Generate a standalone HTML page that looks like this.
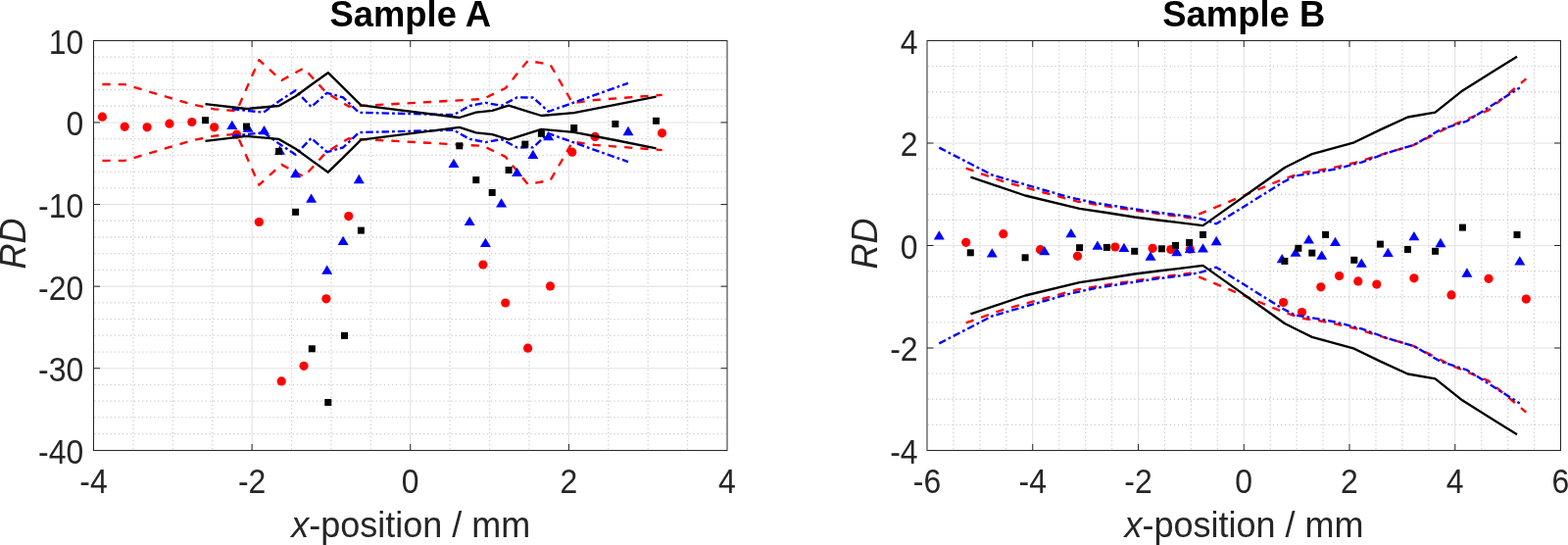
<!DOCTYPE html><html><head><meta charset="utf-8"><title>Sample A / Sample B</title>
<style>html,body{margin:0;padding:0;background:#fff;}svg{display:block;}text{font-family:"Liberation Sans", Arial, Helvetica, sans-serif;}</style></head><body>
<svg width="1600" height="556" viewBox="0 0 1600 556">
<rect width="1600" height="556" fill="#fff"/>
<path d="M135.91 41.5V459.5M176.31 41.5V459.5M216.72 41.5V459.5M297.53 41.5V459.5M337.94 41.5V459.5M378.34 41.5V459.5M459.16 41.5V459.5M499.56 41.5V459.5M539.97 41.5V459.5M620.78 41.5V459.5M661.19 41.5V459.5M701.59 41.5V459.5" stroke="#cfcfcf" stroke-width="1.3" stroke-dasharray="1.3 2.727" stroke-dashoffset="3.377" fill="none"/>
<path d="M95.5 58.07H742M95.5 74.79H742M95.5 91.51H742M95.5 108.23H742M95.5 141.67H742M95.5 158.39H742M95.5 175.11H742M95.5 191.83H742M95.5 225.27H742M95.5 241.99H742M95.5 258.71H742M95.5 275.43H742M95.5 308.87H742M95.5 325.59H742M95.5 342.31H742M95.5 359.03H742M95.5 392.47H742M95.5 409.19H742M95.5 425.91H742M95.5 442.63H742" stroke="#cfcfcf" stroke-width="1.3" stroke-dasharray="1.3 2.745" stroke-dashoffset="3.095" fill="none"/>
<path d="M257.12 41.5V459.5M418.75 41.5V459.5M580.38 41.5V459.5M95.5 124.95H742M95.5 208.55H742M95.5 292.15H742M95.5 375.75H742" stroke="#e3e3e3" stroke-width="1.1" fill="none"/>
<path d="M972.94 41.5V459.5M999.88 41.5V459.5M1026.81 41.5V459.5M1080.69 41.5V459.5M1107.62 41.5V459.5M1134.56 41.5V459.5M1188.44 41.5V459.5M1215.38 41.5V459.5M1242.31 41.5V459.5M1296.19 41.5V459.5M1323.12 41.5V459.5M1350.06 41.5V459.5M1403.94 41.5V459.5M1430.88 41.5V459.5M1457.81 41.5V459.5M1511.69 41.5V459.5M1538.62 41.5V459.5M1565.56 41.5V459.5" stroke="#cfcfcf" stroke-width="1.3" stroke-dasharray="1.3 2.727" stroke-dashoffset="3.377" fill="none"/>
<path d="M946 67.62H1592.5M946 93.75H1592.5M946 119.88H1592.5M946 172.12H1592.5M946 198.25H1592.5M946 224.38H1592.5M946 276.62H1592.5M946 302.75H1592.5M946 328.88H1592.5M946 381.12H1592.5M946 407.25H1592.5M946 433.38H1592.5" stroke="#cfcfcf" stroke-width="1.3" stroke-dasharray="1.3 2.745" stroke-dashoffset="3.095" fill="none"/>
<path d="M1053.75 41.5V459.5M1161.5 41.5V459.5M1269.25 41.5V459.5M1377 41.5V459.5M1484.75 41.5V459.5M946 146H1592.5M946 250.5H1592.5M946 355H1592.5" stroke="#e3e3e3" stroke-width="1.1" fill="none"/>
<g fill="#ff0000"><circle cx="104.4" cy="119.2" r="4.6"/><circle cx="127.25" cy="129.3" r="4.6"/><circle cx="150.1" cy="129.8" r="4.6"/><circle cx="172.95" cy="126.2" r="4.6"/><circle cx="195.8" cy="124.5" r="4.6"/><circle cx="218.65" cy="129.8" r="4.6"/><circle cx="241.5" cy="137.2" r="4.6"/><circle cx="264.35" cy="226.5" r="4.6"/><circle cx="287.2" cy="388.9" r="4.6"/><circle cx="310.05" cy="373.3" r="4.6"/><circle cx="332.9" cy="304.8" r="4.6"/><circle cx="355.75" cy="220.6" r="4.6"/><circle cx="492.9" cy="270" r="4.6"/><circle cx="515.75" cy="309" r="4.6"/><circle cx="538.6" cy="355.2" r="4.6"/><circle cx="561.45" cy="291.9" r="4.6"/><circle cx="583.8" cy="155.2" r="4.6"/><circle cx="607.2" cy="139.4" r="4.6"/><circle cx="675.5" cy="135.8" r="4.6"/></g>
<polyline points="104.4,86 127.25,86.1 150.1,92.9 172.95,99.7 195.8,106.5 218.65,111.3 241.5,113.2 264.35,61.2 287.2,82 310.05,69.6 332.9,94.5 355.75,108.6 378.6,107.4 492.9,101 515.75,90 538.6,62 561.45,65.8 584.3,105.2 607.15,102 675.7,96.8" fill="none" stroke="#ff0000" stroke-width="2.35" stroke-dasharray="8.3 8" stroke-linejoin="round"/>
<polyline points="104.4,163.9 127.25,163.8 150.1,157 172.95,150.2 195.8,143.4 218.65,138.6 241.5,136.7 264.35,188.7 287.2,167.9 310.05,180.3 332.9,155.4 355.75,141.3 378.6,142.5 492.9,148.9 515.75,159.9 538.6,187.9 561.45,184.1 584.3,144.7 607.15,147.9 675.7,153.1" fill="none" stroke="#ff0000" stroke-width="2.35" stroke-dasharray="8.3 8" stroke-linejoin="round"/>
<path d="M236.8 122.75L242.3 132.05L231.3 132.05ZM253.1 125.45L258.6 134.75L247.6 134.75ZM269.5 127.95L275 137.25L264 137.25ZM285.5 148.45L291 157.75L280 157.75ZM301.6 171.85L307.1 181.15L296.1 181.15ZM317.6 197.55L323.1 206.85L312.1 206.85ZM333.7 270.55L339.2 279.85L328.2 279.85ZM350.1 240.75L355.6 250.05L344.6 250.05ZM366.3 177.85L371.8 187.15L360.8 187.15ZM463 161.65L468.5 170.95L457.5 170.95ZM479.2 220.75L484.7 230.05L473.7 230.05ZM495.4 242.65L500.9 251.95L489.9 251.95ZM511.6 202.25L517.1 211.55L506.1 211.55ZM527.6 170.65L533.1 179.95L522.1 179.95ZM543.9 152.65L549.4 161.95L538.4 161.95ZM559.7 134.05L565.2 143.35L554.2 143.35ZM641 128.85L646.5 138.15L635.5 138.15Z" fill="#0000ff"/>
<polyline points="236.8,111.2 268.9,114.7 284.7,103.3 301.6,92.2 317.6,109 333.7,94.8 350.1,99.4 366.3,114.8 463,117.2 479.2,108 495.4,104.8 511.6,107.8 527.6,99.4 543.9,99.5 559.6,113.8 641,84.8" fill="none" stroke="#0000ff" stroke-width="2.35" stroke-dasharray="7.5 3 2.8 3" stroke-linejoin="round"/>
<polyline points="236.8,138.7 268.9,135.2 284.7,146.6 301.6,157.7 317.6,140.9 333.7,155.1 350.1,150.5 366.3,135.1 463,132.7 479.2,141.9 495.4,145.1 511.6,142.1 527.6,150.5 543.9,150.4 559.6,136.1 641,165.1" fill="none" stroke="#0000ff" stroke-width="2.35" stroke-dasharray="7.5 3 2.8 3" stroke-linejoin="round"/>
<g fill="#000000"><rect x="206" y="119.2" width="7.0" height="7.0"/><rect x="248" y="125.6" width="7.0" height="7.0"/><rect x="281.1" y="150.9" width="7.0" height="7.0"/><rect x="298.1" y="212.8" width="7.0" height="7.0"/><rect x="314.8" y="352.3" width="7.0" height="7.0"/><rect x="331.3" y="407" width="7.0" height="7.0"/><rect x="348" y="338.9" width="7.0" height="7.0"/><rect x="364.9" y="231.6" width="7.0" height="7.0"/><rect x="465.3" y="145.3" width="7.0" height="7.0"/><rect x="482.3" y="180.1" width="7.0" height="7.0"/><rect x="498.7" y="193" width="7.0" height="7.0"/><rect x="515.6" y="170" width="7.0" height="7.0"/><rect x="532.3" y="143.6" width="7.0" height="7.0"/><rect x="548.9" y="132.8" width="7.0" height="7.0"/><rect x="582.2" y="127" width="7.0" height="7.0"/><rect x="624.4" y="123" width="7.0" height="7.0"/><rect x="666" y="119.8" width="7.0" height="7.0"/></g>
<polyline points="209.5,106.1 251.4,111 284.6,108 301.6,98.2 318.3,86 334.8,74.2 351.5,90.6 368.4,107.3 468.8,120 485.8,114.6 502.2,112.8 519.1,107.6 535.8,112.8 552.4,118 585.6,115.1 627.9,106.9 669.6,98.6" fill="none" stroke="#000000" stroke-width="2.35" stroke-linejoin="round"/>
<polyline points="209.5,143.8 251.4,138.9 284.6,141.9 301.6,151.7 318.3,163.9 334.8,175.7 351.5,159.3 368.4,142.6 468.8,129.9 485.8,135.3 502.2,137.1 519.1,142.3 535.8,137.1 552.4,131.9 585.6,134.8 627.9,143 669.6,151.3" fill="none" stroke="#000000" stroke-width="2.35" stroke-linejoin="round"/>
<g fill="#ff0000"><circle cx="985.7" cy="247.3" r="4.6"/><circle cx="1023.8" cy="238.7" r="4.6"/><circle cx="1061.5" cy="254.7" r="4.6"/><circle cx="1099.5" cy="261.3" r="4.6"/><circle cx="1137.9" cy="252" r="4.6"/><circle cx="1176.1" cy="253.3" r="4.6"/><circle cx="1194.7" cy="254.5" r="4.6"/><circle cx="1214.3" cy="254.2" r="4.6"/><circle cx="1309.6" cy="308.6" r="4.6"/><circle cx="1328.5" cy="318.5" r="4.6"/><circle cx="1347.8" cy="292.8" r="4.6"/><circle cx="1366.6" cy="281.5" r="4.6"/><circle cx="1385.8" cy="286.9" r="4.6"/><circle cx="1404.8" cy="290.1" r="4.6"/><circle cx="1442.9" cy="283.8" r="4.6"/><circle cx="1481" cy="300.9" r="4.6"/><circle cx="1519" cy="284.3" r="4.6"/><circle cx="1557.3" cy="305.1" r="4.6"/></g>
<polyline points="985.7,171.6 1023.8,185.2 1061.5,195.5 1099.5,205.6 1137.9,211.8 1176.1,217.2 1194.7,219.8 1214.3,222.3 1309.6,182.6 1328.5,176.3 1347.8,173.5 1366.6,169.7 1385.8,165.2 1404.8,159.2 1442.9,147.8 1481,128.2 1519,112.4 1557.3,80.4" fill="none" stroke="#ff0000" stroke-width="2.35" stroke-dasharray="8.3 8" stroke-linejoin="round"/>
<polyline points="985.7,329.4 1023.8,315.8 1061.5,305.5 1099.5,295.4 1137.9,289.2 1176.1,283.8 1194.7,281.2 1214.3,278.7 1309.6,318.4 1328.5,324.7 1347.8,327.5 1366.6,331.3 1385.8,335.8 1404.8,341.8 1442.9,353.2 1481,372.8 1519,388.6 1557.3,420.6" fill="none" stroke="#ff0000" stroke-width="2.35" stroke-dasharray="8.3 8" stroke-linejoin="round"/>
<path d="M958.3 235.15L963.8 244.45L952.8 244.45ZM1012.3 253.15L1017.8 262.45L1006.8 262.45ZM1065.8 250.95L1071.3 260.25L1060.3 260.25ZM1092.9 232.95L1098.4 242.25L1087.4 242.25ZM1119.9 245.55L1125.4 254.85L1114.4 254.85ZM1146.9 247.75L1152.4 257.05L1141.4 257.05ZM1174 256.35L1179.5 265.65L1168.5 265.65ZM1200.8 251.85L1206.3 261.15L1195.3 261.15ZM1214.3 248.65L1219.8 257.95L1208.8 257.95ZM1227.5 248.25L1233 257.55L1222 257.55ZM1241.2 240.85L1246.7 250.15L1235.7 250.15ZM1308.2 258.95L1313.7 268.25L1302.7 268.25ZM1322 252.55L1327.5 261.85L1316.5 261.85ZM1335.5 239.15L1341 248.45L1330 248.45ZM1348.7 255.55L1354.2 264.85L1343.2 264.85ZM1362.5 241.75L1368 251.05L1357 251.05ZM1389.3 263.55L1394.8 272.85L1383.8 272.85ZM1416.3 252.75L1421.8 262.05L1410.8 262.05ZM1442.9 236.05L1448.4 245.35L1437.4 245.35ZM1469.9 242.85L1475.4 252.15L1464.4 252.15ZM1496.9 273.35L1502.4 282.65L1491.4 282.65ZM1550.8 261.15L1556.3 270.45L1545.3 270.45Z" fill="#0000ff"/>
<polyline points="958.3,150.6 1012.3,178.5 1065.8,194 1092.9,201.7 1119.9,207.4 1146.9,211.6 1174,215.7 1200.8,219.2 1214.3,220.9 1227.5,223.8 1241.2,228.3 1308.2,186.5 1322,179.3 1335.5,177.3 1348.7,175.1 1362.5,172.5 1389.3,165.6 1416.3,155.7 1442.9,147.8 1469.9,132.2 1496.9,123.5 1550.8,89.5" fill="none" stroke="#0000ff" stroke-width="2.35" stroke-dasharray="7.5 3 2.8 3" stroke-linejoin="round"/>
<polyline points="958.3,350.4 1012.3,322.5 1065.8,307 1092.9,299.3 1119.9,293.6 1146.9,289.4 1174,285.3 1200.8,281.8 1214.3,280.1 1227.5,277.2 1241.2,272.7 1308.2,314.5 1322,321.7 1335.5,323.7 1348.7,325.9 1362.5,328.5 1389.3,335.4 1416.3,345.3 1442.9,353.2 1469.9,368.8 1496.9,377.5 1550.8,411.5" fill="none" stroke="#0000ff" stroke-width="2.35" stroke-dasharray="7.5 3 2.8 3" stroke-linejoin="round"/>
<g fill="#000000"><rect x="986.8" y="254.3" width="7.0" height="7.0"/><rect x="1042.6" y="259.3" width="7.0" height="7.0"/><rect x="1098.1" y="249.2" width="7.0" height="7.0"/><rect x="1125.9" y="248.9" width="7.0" height="7.0"/><rect x="1154.2" y="252.8" width="7.0" height="7.0"/><rect x="1182" y="250.3" width="7.0" height="7.0"/><rect x="1196" y="246.9" width="7.0" height="7.0"/><rect x="1210.1" y="244" width="7.0" height="7.0"/><rect x="1224" y="235.9" width="7.0" height="7.0"/><rect x="1307.4" y="262.9" width="7.0" height="7.0"/><rect x="1321.4" y="249.8" width="7.0" height="7.0"/><rect x="1335.3" y="254.6" width="7.0" height="7.0"/><rect x="1349.1" y="235.9" width="7.0" height="7.0"/><rect x="1378.3" y="261.8" width="7.0" height="7.0"/><rect x="1404.9" y="245.6" width="7.0" height="7.0"/><rect x="1433" y="251" width="7.0" height="7.0"/><rect x="1461" y="252.8" width="7.0" height="7.0"/><rect x="1488.9" y="228.6" width="7.0" height="7.0"/><rect x="1544.5" y="236" width="7.0" height="7.0"/></g>
<polyline points="990.4,180.6 1046.1,199.5 1101.6,212.8 1129.4,217 1157.7,221.5 1185.5,225 1199.5,226.6 1213.6,228.3 1227.5,230.1 1310.9,171 1324.9,164 1338.8,157.1 1352.6,153.3 1381.8,145.3 1408.4,132.4 1436.5,119.5 1464.5,114.7 1492.4,92.4 1548,57.8" fill="none" stroke="#000000" stroke-width="2.35" stroke-linejoin="round"/>
<polyline points="990.4,320.4 1046.1,301.5 1101.6,288.2 1129.4,284 1157.7,279.5 1185.5,276 1199.5,274.4 1213.6,272.7 1227.5,270.9 1310.9,330 1324.9,337 1338.8,343.9 1352.6,347.7 1381.8,355.7 1408.4,368.6 1436.5,381.5 1464.5,386.3 1492.4,408.6 1548,443.2" fill="none" stroke="#000000" stroke-width="2.35" stroke-linejoin="round"/>
<path d="M257.12 459.5V453M257.12 41.5V48M418.75 459.5V453M418.75 41.5V48M580.38 459.5V453M580.38 41.5V48M95.5 124.95H102M742 124.95H735.5M95.5 208.55H102M742 208.55H735.5M95.5 292.15H102M742 292.15H735.5M95.5 375.75H102M742 375.75H735.5" stroke="#262626" stroke-width="1" fill="none"/>
<rect x="95.5" y="41.5" width="646.5" height="418" fill="none" stroke="#262626" stroke-width="1"/>
<path d="M1053.75 459.5V453M1053.75 41.5V48M1161.5 459.5V453M1161.5 41.5V48M1269.25 459.5V453M1269.25 41.5V48M1377 459.5V453M1377 41.5V48M1484.75 459.5V453M1484.75 41.5V48M946 146H952.5M1592.5 146H1586M946 250.5H952.5M1592.5 250.5H1586M946 355H952.5M1592.5 355H1586" stroke="#262626" stroke-width="1" fill="none"/>
<rect x="946" y="41.5" width="646.5" height="418" fill="none" stroke="#262626" stroke-width="1"/>
<text transform="translate(85.2,54.82) scale(0.9,1)" text-anchor="end" font-size="35.5" fill="#262626">10</text>
<text transform="translate(85.2,138.42) scale(0.9,1)" text-anchor="end" font-size="35.5" fill="#262626">0</text>
<text transform="translate(85.2,222.02) scale(0.9,1)" text-anchor="end" font-size="35.5" fill="#262626">-10</text>
<text transform="translate(85.2,305.62) scale(0.9,1)" text-anchor="end" font-size="35.5" fill="#262626">-20</text>
<text transform="translate(85.2,389.22) scale(0.9,1)" text-anchor="end" font-size="35.5" fill="#262626">-30</text>
<text transform="translate(85.2,472.82) scale(0.9,1)" text-anchor="end" font-size="35.5" fill="#262626">-40</text>
<text transform="translate(95.5,502.6) scale(0.9,1)" text-anchor="middle" font-size="35.5" fill="#262626">-4</text>
<text transform="translate(257.12,502.6) scale(0.9,1)" text-anchor="middle" font-size="35.5" fill="#262626">-2</text>
<text transform="translate(418.75,502.6) scale(0.9,1)" text-anchor="middle" font-size="35.5" fill="#262626">0</text>
<text transform="translate(580.38,502.6) scale(0.9,1)" text-anchor="middle" font-size="35.5" fill="#262626">2</text>
<text transform="translate(742,502.6) scale(0.9,1)" text-anchor="middle" font-size="35.5" fill="#262626">4</text>
<text transform="translate(936.6,54.97) scale(0.9,1)" text-anchor="end" font-size="35.5" fill="#262626">4</text>
<text transform="translate(936.6,159.47) scale(0.9,1)" text-anchor="end" font-size="35.5" fill="#262626">2</text>
<text transform="translate(936.6,263.97) scale(0.9,1)" text-anchor="end" font-size="35.5" fill="#262626">0</text>
<text transform="translate(936.6,368.47) scale(0.9,1)" text-anchor="end" font-size="35.5" fill="#262626">-2</text>
<text transform="translate(936.6,472.97) scale(0.9,1)" text-anchor="end" font-size="35.5" fill="#262626">-4</text>
<text transform="translate(946,502.6) scale(0.9,1)" text-anchor="middle" font-size="35.5" fill="#262626">-6</text>
<text transform="translate(1053.75,502.6) scale(0.9,1)" text-anchor="middle" font-size="35.5" fill="#262626">-4</text>
<text transform="translate(1161.5,502.6) scale(0.9,1)" text-anchor="middle" font-size="35.5" fill="#262626">-2</text>
<text transform="translate(1269.25,502.6) scale(0.9,1)" text-anchor="middle" font-size="35.5" fill="#262626">0</text>
<text transform="translate(1377,502.6) scale(0.9,1)" text-anchor="middle" font-size="35.5" fill="#262626">2</text>
<text transform="translate(1484.75,502.6) scale(0.9,1)" text-anchor="middle" font-size="35.5" fill="#262626">4</text>
<text transform="translate(1592.5,502.6) scale(0.9,1)" text-anchor="middle" font-size="35.5" fill="#262626">6</text>
<text x="418.75" y="26.9" text-anchor="middle" font-size="36.4" font-weight="bold" fill="#000">Sample A</text>
<text x="1269.25" y="26.9" text-anchor="middle" font-size="36.4" font-weight="bold" fill="#000">Sample B</text>
<text x="419.25" y="548.3" text-anchor="middle" font-size="36.0" fill="#262626"><tspan font-style="italic">x</tspan>-position / mm</text>
<text x="1269.45" y="548.3" text-anchor="middle" font-size="36.0" fill="#262626"><tspan font-style="italic">x</tspan>-position / mm</text>
<text transform="translate(25.8,248.5) rotate(-90)" x="0" y="0" text-anchor="middle" font-size="36.0" font-style="italic" fill="#262626">RD</text>
<text transform="translate(894.6,248.5) rotate(-90)" x="0" y="0" text-anchor="middle" font-size="36.0" font-style="italic" fill="#262626">RD</text>
</svg></body></html>
